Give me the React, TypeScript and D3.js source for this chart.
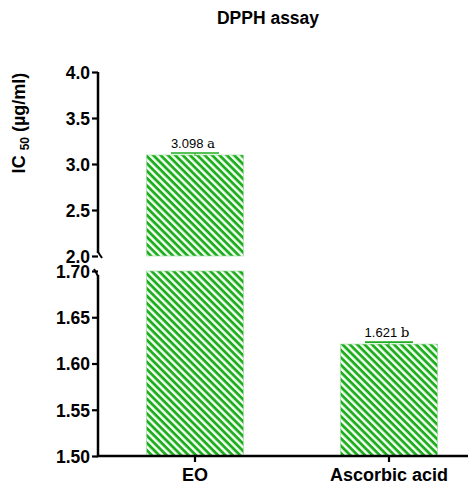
import React, { useEffect, useRef } from 'react';
import * as d3 from 'd3';

const categories = ['EO', 'Ascorbic acid'];
const values = [3.098, 1.621];
const letters = ['a', 'b'];
const topTicks = [2.0, 2.5, 3.0, 3.5, 4.0];
const bottomTicks = [1.5, 1.55, 1.6, 1.65, 1.7];

const W = 474;
const H = 489;
const GREEN = '#1fae1f';

const App: React.FC = () => {
  const svgRef = useRef<SVGSVGElement>(null);

  useEffect(() => {
    if (!svgRef.current) return;
    const svg = d3.select(svgRef.current);
    svg.selectAll('*').remove();

    const font = 'Arial, "Liberation Sans", sans-serif';
    const axisX = 98;

    // hatch pattern
    const defs = svg.append('defs');
    const pat = defs.append('pattern')
      .attr('id', 'hatch')
      .attr('patternUnits', 'userSpaceOnUse')
      .attr('width', 10)
      .attr('height', 5.2)
      .attr('patternTransform', 'rotate(45)');
    pat.append('rect').attr('width', 10).attr('height', 5.2).attr('fill', '#f6fff4');
    pat.append('line')
      .attr('x1', 0).attr('x2', 10).attr('y1', 1.4).attr('y2', 1.4)
      .attr('stroke', GREEN).attr('stroke-width', 2.8);

    const x = d3.scaleBand()
      .domain(categories)
      .range([axisX, 486])
      .paddingInner(0.5)
      .paddingOuter(0.25);

    const yTop = d3.scaleLinear().domain([2, 4]).range([256, 72]);
    const yBot = d3.scaleLinear().domain([1.5, 1.7]).range([456, 271]);

    // title
    svg.append('text')
      .attr('x', 268).attr('y', 24)
      .attr('text-anchor', 'middle')
      .attr('font-family', font).attr('font-weight', 'bold').attr('font-size', 17.5)
      .text('DPPH assay');

    // y title
    const yt = svg.append('text')
      .attr('transform', 'translate(25,123) rotate(-90)')
      .attr('text-anchor', 'middle')
      .attr('font-family', font).attr('font-weight', 'bold').attr('font-size', 18);
    yt.append('tspan').text('IC ');
    yt.append('tspan').attr('font-size', 12).attr('dy', 4).text('50');
    yt.append('tspan').attr('dy', -4).text(' (µg/ml)');

    // bars
    const data = categories.map((c, i) => ({ c, v: values[i], l: letters[i] }));
    const bars = svg.append('g');
    data.forEach(d => {
      const bx = x(d.c) as number;
      const bw = x.bandwidth();
      if (d.v > 2) {
        bars.append('rect')
          .attr('x', bx).attr('y', yBot(1.7))
          .attr('width', bw).attr('height', yBot(1.5) - yBot(1.7))
          .attr('fill', 'url(#hatch)').attr('stroke', '#9ad69a').attr('stroke-width', 0.6);
        bars.append('rect')
          .attr('x', bx).attr('y', yTop(d.v))
          .attr('width', bw).attr('height', yTop(2) - yTop(d.v))
          .attr('fill', 'url(#hatch)').attr('stroke', '#9ad69a').attr('stroke-width', 0.6);
      } else {
        bars.append('rect')
          .attr('x', bx).attr('y', yBot(d.v))
          .attr('width', bw).attr('height', yBot(1.5) - yBot(d.v))
          .attr('fill', 'url(#hatch)').attr('stroke', '#9ad69a').attr('stroke-width', 0.6);
      }
      const ty = d.v > 2 ? yTop(d.v) : yBot(d.v);
      const cx = bx + bw / 2;
      // error cap
      bars.append('line')
        .attr('x1', cx - 24).attr('x2', cx + 24)
        .attr('y1', ty - 2).attr('y2', ty - 2)
        .attr('stroke', GREEN).attr('stroke-width', 1.6);
      bars.append('line')
        .attr('x1', cx).attr('x2', cx)
        .attr('y1', ty - 2).attr('y2', ty + 1)
        .attr('stroke', GREEN).attr('stroke-width', 1);
      const lab = bars.append('text')
        .attr('x', cx - 2).attr('y', ty - 7)
        .attr('text-anchor', 'middle')
        .attr('font-family', font).attr('font-size', 13);
      lab.append('tspan').text(d.v.toFixed(3) + ' ');
      lab.append('tspan').attr('font-family', '"DejaVu Serif", "Liberation Serif", serif').attr('font-size', 13.5).text(d.l);
    });

    // y axes
    const styleAxis = (g: d3.Selection<SVGGElement, unknown, null, undefined>) => {
      g.select('.domain').remove();
      g.selectAll('.tick line').attr('stroke', '#000').attr('stroke-width', 2.2);
      g.selectAll('.tick text')
        .attr('font-family', font).attr('font-weight', 'bold').attr('font-size', 17.5)
        .attr('fill', '#000').attr('dy', '0.36em');
    };

    const gTop = svg.append('g')
      .attr('transform', `translate(${axisX},0)`)
      .call(d3.axisLeft(yTop).tickValues(topTicks).tickFormat(d3.format('.1f')).tickSize(6).tickPadding(2));
    styleAxis(gTop);
    gTop.append('line')
      .attr('x1', 0).attr('x2', 0).attr('y1', yTop(4)).attr('y2', yTop(2) - 3)
      .attr('stroke', '#000').attr('stroke-width', 2.5);
    gTop.append('path')
      .attr('d', `M0,${yTop(2) - 4} L4,${yTop(2) + 2}`)
      .attr('stroke', '#000').attr('stroke-width', 2).attr('fill', 'none');

    const gBot = svg.append('g')
      .attr('transform', `translate(${axisX},0)`)
      .call(d3.axisLeft(yBot).tickValues(bottomTicks).tickFormat(d3.format('.2f')).tickSize(6).tickPadding(2));
    styleAxis(gBot);
    gBot.append('line')
      .attr('x1', 0).attr('x2', 0).attr('y1', yBot(1.7) + 4).attr('y2', yBot(1.5))
      .attr('stroke', '#000').attr('stroke-width', 2.5);
    gBot.append('path')
      .attr('d', `M-4,${yBot(1.7) - 2} L0,${yBot(1.7) + 5}`)
      .attr('stroke', '#000').attr('stroke-width', 2).attr('fill', 'none');

    // x axis
    const gx = svg.append('g').attr('transform', `translate(0,${yBot(1.5)})`);
    gx.append('line')
      .attr('x1', axisX - 1).attr('x2', 468)
      .attr('stroke', '#000').attr('stroke-width', 2.5);
    categories.forEach(c => {
      const cx = (x(c) as number) + x.bandwidth() / 2;
      gx.append('line')
        .attr('x1', cx).attr('x2', cx).attr('y1', 0).attr('y2', 6)
        .attr('stroke', '#000').attr('stroke-width', 2.2);
      gx.append('text')
        .attr('x', cx).attr('y', 25)
        .attr('text-anchor', 'middle')
        .attr('font-family', font).attr('font-weight', 'bold').attr('font-size', 18)
        .text(c);
    });
  }, []);

  return (
    <svg ref={svgRef} width={W} height={H}
      style={{ position: 'absolute', left: 0, top: 0, background: '#fff' }} />
  );
};

export default App;
